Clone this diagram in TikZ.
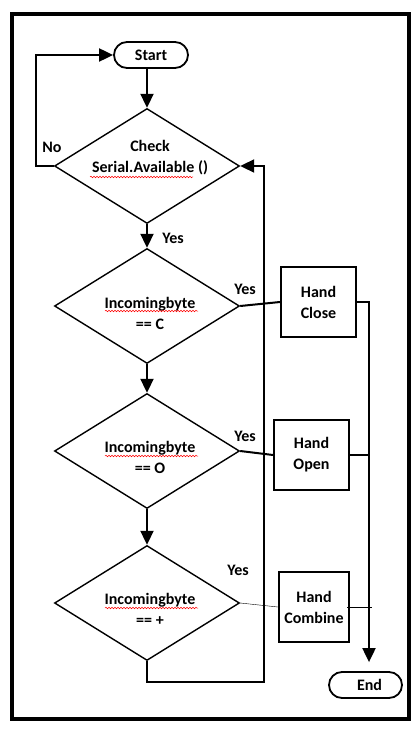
\documentclass[tikz,border=0pt]{standalone}
\usepackage{fontspec}
\setmainfont{Carlito}
\usetikzlibrary{arrows.meta}
\usetikzlibrary{shapes.geometric}
\usetikzlibrary{decorations.pathmorphing}
\usetikzlibrary{calc}

\tikzset{
  terminal/.style={draw, line width=1.8pt, rounded corners=13pt, minimum width=74pt, minimum height=26pt, inner sep=0pt},
  decision/.style={draw, line width=1.4pt, diamond, minimum width=185pt, minimum height=115pt, inner sep=0pt},
  inside/.style={align=center, xshift=3pt},
  process/.style={draw, line width=2pt, minimum height=70pt, inner sep=0pt, align=center},
  flow/.style={line width=2pt, -{Triangle[width=13pt,length=14pt]}},
  link/.style={line width=2pt},
  squiggle/.style={red, line width=0.5pt, decorate, decoration={snake, amplitude=0.8pt, segment length=3pt}}
}

\begin{document}
\begin{tikzpicture}[x=1pt, y=-1pt, font=\bfseries\fontsize{16}{21}\selectfont]
        \useasboundingbox (0,0) rectangle (418,730);
        \draw[black, line width=3.5pt] (12,14) rectangle (409,719);
        % terminals and steps
        \node[terminal] (start) at (151,55) {Start};
        \node[decision, label={[inside, yshift=8pt]center:Check\\Serial.Available ()}] (check) at (147,166) {};
        \node[decision, label={[inside, yshift=-7pt]center:Incomingbyte\\== C}] (inC) at (147,306) {};
        \node[decision, label={[inside, yshift=-6pt]center:Incomingbyte\\== O}] (inO) at (147,451) {};
        \node[decision, label={[inside, yshift=-6pt]center:Incomingbyte\\== +}] (inP) at (147,603) {};
        \node[process, minimum width=75pt] (close) at (318.5,302) {Hand\\Close};
        \node[process, minimum width=75pt] (open) at (311.5,455) {Hand\\Open};
        \node[process, minimum width=70pt] (comb) at (314,607) {Hand\\Combine};
        \node[terminal, minimum width=73pt] (end) at (365.5,685) {\hspace*{8pt}End};
        % labels
        \node (no) at (52,147) {No};
        \node (yes0) at (173,238) {Yes};
        \node (yes1) at (245,289) {Yes};
        \node (yes2) at (245,436) {Yes};
        \node (yes3) at (238,570) {Yes};
        \coordinate (back) at (264,682);
        \coordinate (rail) at (369,302);
        % connectors
        \draw[flow] (check.north |- start.south) -- (check.north);
        \draw[flow] (check.west) -- ++(-18,0) |- (start.west);
        \draw[flow] (check) -- (inC);
        \draw[flow] (inC) -- (inO);
        \draw[flow] (inO) -- (inP);
        \draw[flow] (inP.south) |- (back) |- (check.east);
        \draw[link] (inC.east) -- (close.west);
        \draw[link] (inO.east) -- (open.west);
        \draw[thin] (inP.east) -- (comb.west);
        \draw[flow, shorten >=9pt] (close.east) -- (rail) -- (rail |- end.north);
        \draw[link] (open.east) -- (open.east -| rail);
        \draw[thin] ([xshift=-3pt]comb.east) -- ([xshift=3pt]comb.east -| rail);
        % spelling marks
        \draw[squiggle] ($(check)+(-57,11)$) -- ($(check)+(46,11)$);
        \draw[squiggle] ($(inC)+(-42,5)$) -- ($(inC)+(51,5)$);
        \draw[squiggle] ($(inO)+(-42,5)$) -- ($(inO)+(51,5)$);
        \draw[squiggle] ($(inP)+(-42,5)$) -- ($(inP)+(51,5)$);
    \end{tikzpicture}
\end{document}
